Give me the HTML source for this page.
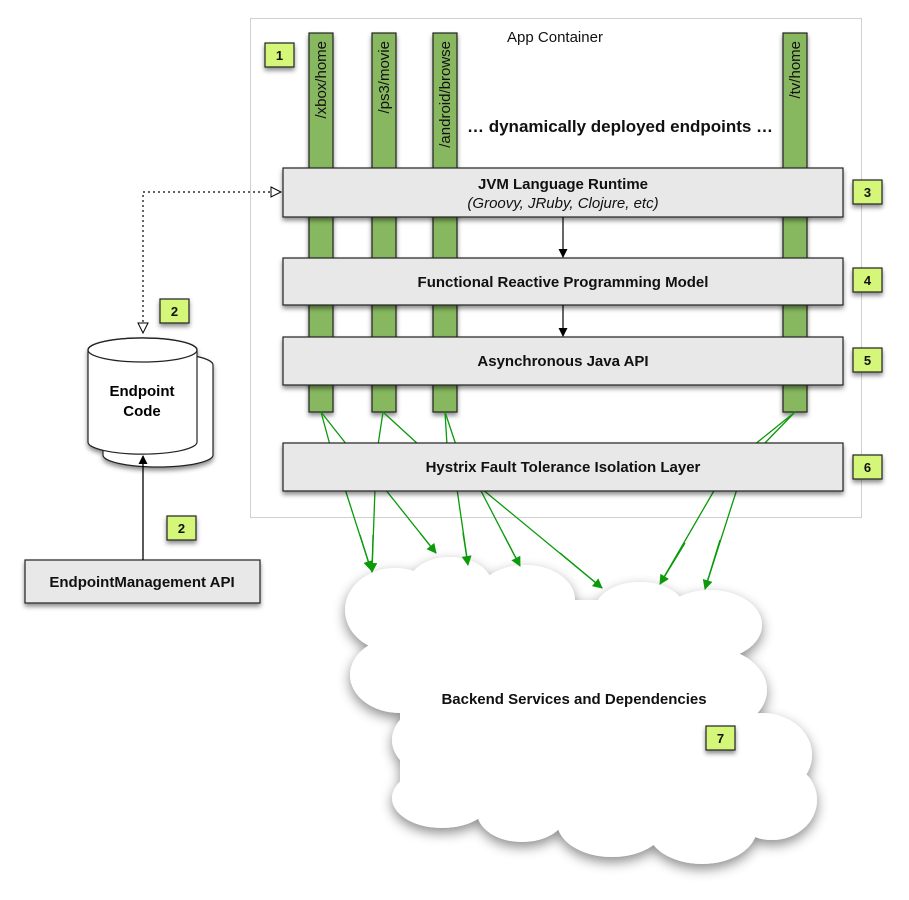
<!DOCTYPE html>
<html><head><meta charset="utf-8"><style>
body{margin:0;background:#fff;width:909px;height:900px;overflow:hidden}
svg{display:block}
text{font-family:"Liberation Sans",sans-serif}
</style></head><body>
<svg width="909" height="900" viewBox="0 0 909 900" xmlns="http://www.w3.org/2000/svg">
<defs>
<filter id="sh" x="-20%" y="-20%" width="140%" height="160%"><feDropShadow dx="0" dy="3" stdDeviation="2.5" flood-color="#000" flood-opacity="0.45"/></filter>
<filter id="csh" x="-10%" y="-10%" width="120%" height="125%"><feDropShadow dx="0" dy="5" stdDeviation="6" flood-color="#000" flood-opacity="0.45"/></filter>
<marker id="ag" markerWidth="10" markerHeight="10" refX="9" refY="5" orient="auto" markerUnits="userSpaceOnUse"><path d="M0,0 L10,5 L0,10 z" fill="#0a9a0a"/></marker>
<marker id="ab" markerWidth="9" markerHeight="9" refX="8" refY="4.5" orient="auto" markerUnits="userSpaceOnUse"><path d="M0,0 L9,4.5 L0,9 z" fill="#000"/></marker>
</defs>
<!-- container -->
<rect x="250.5" y="18.5" width="611" height="499" fill="none" stroke="#d0d0d0"/>
<text x="555" y="42" font-size="15" text-anchor="middle" fill="#111">App Container</text>
<!-- green bars -->
<g fill="#87b860" stroke="#222" stroke-width="1.2" filter="url(#sh)">
<rect x="309" y="33" width="24" height="379"/>
<rect x="372" y="33" width="24" height="379"/>
<rect x="433" y="33" width="24" height="379"/>
<rect x="783" y="33" width="24" height="379"/>
</g>
<g font-size="15" fill="#111" text-anchor="end">
<text transform="translate(326,41) rotate(-90)">/xbox/home</text>
<text transform="translate(389,41) rotate(-90)">/ps3/movie</text>
<text transform="translate(450,41) rotate(-90)">/android/browse</text>
<text transform="translate(800,41) rotate(-90)">/tv/home</text>
</g>
<text x="467" y="132" font-size="17" font-weight="bold" fill="#111">… dynamically deployed endpoints …</text>
<!-- upper green connectors (behind layer) -->
<g stroke="#0a9a0a" stroke-width="1.3" fill="none">
<line x1="321" y1="412" x2="330" y2="445"/>
<line x1="321" y1="412" x2="347" y2="445"/>
<line x1="383" y1="412" x2="378" y2="445"/>
<line x1="383" y1="412" x2="419" y2="445"/>
<line x1="445" y1="412" x2="447" y2="445"/>
<line x1="445" y1="412" x2="456" y2="445"/>
<line x1="795" y1="412" x2="754" y2="445"/>
<line x1="795" y1="412" x2="763" y2="445"/>
<line x1="345" y1="489" x2="371" y2="570"/>
<line x1="375" y1="489" x2="372" y2="572"/>
<line x1="385" y1="489" x2="436" y2="553"/>
<line x1="457" y1="489" x2="468" y2="565"/>
<line x1="480" y1="489" x2="520" y2="566"/>
<line x1="482" y1="489" x2="602" y2="588"/>
<line x1="715" y1="489" x2="660" y2="584"/>
<line x1="737" y1="489" x2="705" y2="589"/>
</g>
<!-- layers -->
<g fill="#e8e8e8" stroke="#222" stroke-width="1.2" filter="url(#sh)">
<rect x="283" y="168" width="560" height="49"/>
<rect x="283" y="258" width="560" height="47"/>
<rect x="283" y="337" width="560" height="48"/>
<rect x="283" y="443" width="560" height="48"/>
<rect x="25" y="560" width="235" height="43"/>
</g>
<g font-size="15" font-weight="bold" fill="#111" text-anchor="middle">
<text x="563" y="189">JVM Language Runtime</text>
<text x="563" y="287">Functional Reactive Programming Model</text>
<text x="563" y="366">Asynchronous Java API</text>
<text x="563" y="472">Hystrix Fault Tolerance Isolation Layer</text>
<text x="142" y="587">EndpointManagement API</text>
</g>
<text x="563" y="208" font-size="15" font-style="italic" text-anchor="middle" fill="#111">(Groovy, JRuby, Clojure, etc)</text>
<line x1="563" y1="217" x2="563" y2="257" stroke="#000" stroke-width="1.2" marker-end="url(#ab)"/>
<line x1="563" y1="305" x2="563" y2="336" stroke="#000" stroke-width="1.2" marker-end="url(#ab)"/>
<!-- cylinder -->
<g stroke="#222" stroke-width="1.2" fill="#fff" filter="url(#sh)">
<path d="M103,365 L103,455 A55,12 0 0 0 213,455 L213,365 A55,12 0 0 0 103,365 z"/>
<path d="M88,350 L88,442 A54,12 0 0 0 197,442 L197,350 A54,12 0 0 0 88,350 z"/>
</g>
<ellipse cx="142.5" cy="350" rx="54.5" ry="12" fill="none" stroke="#222" stroke-width="1.2"/>
<text x="142" y="396" font-size="15" font-weight="bold" text-anchor="middle">Endpoint</text>
<text x="142" y="416" font-size="15" font-weight="bold" text-anchor="middle">Code</text>
<polyline points="143,332 143,192 281,192" fill="none" stroke="#000" stroke-width="1.2" stroke-dasharray="2,3"/>
<path d="M271,187 L281,192 L271,197 z" fill="#fff" stroke="#000"/>
<path d="M138,323 L143,333 L148,323 z" fill="#fff" stroke="#000"/>
<line x1="143" y1="560" x2="143" y2="456" stroke="#000" stroke-width="1.3" marker-end="url(#ab)"/>
<!-- cloud -->
<g fill="#fff" filter="url(#csh)">
<g>
<ellipse cx="395" cy="610" rx="50" ry="42"/>
<ellipse cx="450" cy="585" rx="42" ry="28"/>
<ellipse cx="525" cy="600" rx="50" ry="35"/>
<ellipse cx="640" cy="610" rx="45" ry="28"/>
<ellipse cx="710" cy="625" rx="52" ry="35"/>
<ellipse cx="400" cy="675" rx="50" ry="38"/>
<ellipse cx="700" cy="690" rx="67" ry="45"/>
<ellipse cx="437" cy="740" rx="45" ry="35"/>
<ellipse cx="762" cy="755" rx="50" ry="42"/>
<ellipse cx="442" cy="798" rx="50" ry="30"/>
<ellipse cx="522" cy="812" rx="45" ry="30"/>
<ellipse cx="612" cy="822" rx="55" ry="35"/>
<ellipse cx="702" cy="828" rx="55" ry="36"/>
<ellipse cx="772" cy="800" rx="45" ry="40"/>
<rect x="400" y="600" width="340" height="210"/>
</g>
</g>
<text x="574" y="704" font-size="15" font-weight="bold" text-anchor="middle" fill="#111">Backend Services and Dependencies</text>
<!-- lower green connectors with arrowheads -->
<g stroke="#0a9a0a" stroke-width="1.3" fill="none" marker-end="url(#ag)">
<line x1="360" y1="535" x2="371" y2="570"/>
<line x1="373" y1="535" x2="372" y2="572"/>
<line x1="420" y1="533" x2="436" y2="553"/>
<line x1="463" y1="533" x2="468" y2="565"/>
<line x1="505" y1="537" x2="520" y2="566"/>
<line x1="560" y1="553" x2="602" y2="588"/>
<line x1="685" y1="543" x2="660" y2="584"/>
<line x1="720" y1="540" x2="705" y2="589"/>
</g>
<!-- number badges -->
<g fill="#d4f77a" stroke="#222" stroke-width="1.2" filter="url(#sh)">
<rect x="265" y="43" width="29" height="24"/>
<rect x="853" y="180" width="29" height="24"/>
<rect x="853" y="268" width="29" height="24"/>
<rect x="853" y="348" width="29" height="24"/>
<rect x="853" y="455" width="29" height="24"/>
<rect x="160" y="299" width="29" height="24"/>
<rect x="167" y="516" width="29" height="24"/>
<rect x="706" y="726" width="29" height="24"/>
</g>
<g font-size="13" font-weight="bold" text-anchor="middle" fill="#111">
<text x="279.5" y="60">1</text>
<text x="867.5" y="197">3</text>
<text x="867.5" y="285">4</text>
<text x="867.5" y="365">5</text>
<text x="867.5" y="472">6</text>
<text x="174.5" y="316">2</text>
<text x="181.5" y="533">2</text>
<text x="720.5" y="743">7</text>
</g>
</svg>
</body></html>
